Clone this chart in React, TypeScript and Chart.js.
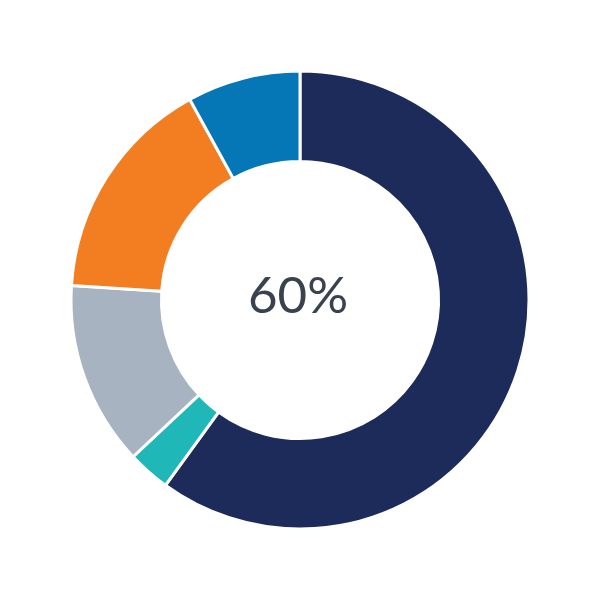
import React, { useEffect, useRef } from "react";
import { Chart, registerables } from "chart.js";

Chart.register(...registerables);

const labels = ["Navy", "Teal", "Gray", "Orange", "Blue"];
const values = [60, 3, 13, 16, 8];
const colors = ["#1c2b5a", "#1fb7b7", "#a8b3c2", "#f37e21", "#0577b7"];
const centerText = "60%";

const centerPlugin = {
  id: "centerText",
  afterDraw(chart: any) {
    const { ctx } = chart;
    const meta = chart.getDatasetMeta(0);
    const arc = meta.data[0];
    const x = arc.x;
    const y = arc.y;
    ctx.save();
    ctx.font = "400 51px Lato";
    ctx.fillStyle = "#3a424e";
    ctx.textAlign = "center";
    ctx.textBaseline = "middle";
    ctx.fillText(centerText, x - 2, y - 3);
    ctx.restore();
  },
};

export default function App() {
  const ref = useRef<HTMLCanvasElement>(null);
  useEffect(() => {
    const chart = new Chart(ref.current!, {
      type: "doughnut",
      data: {
        labels,
        datasets: [
          {
            data: values,
            backgroundColor: colors,
            borderColor: "#ffffff",
            borderWidth: 3,
            radius: 229,
          } as any,
        ],
      },
      options: {
        responsive: false,
        animation: false,
        cutout: "60.5%",
        plugins: { legend: { display: false }, tooltip: { enabled: false } },
        layout: { padding: 0 },
      } as any,
      plugins: [centerPlugin],
    });
    return () => chart.destroy();
  }, []);
  return (
    <div style={{ position: "fixed", left: 0, top: 0, width: 600, height: 600, background: "#fff" }}>
      <canvas ref={ref} width={600} height={600} style={{ width: 600, height: 600 }} />
    </div>
  );
}
